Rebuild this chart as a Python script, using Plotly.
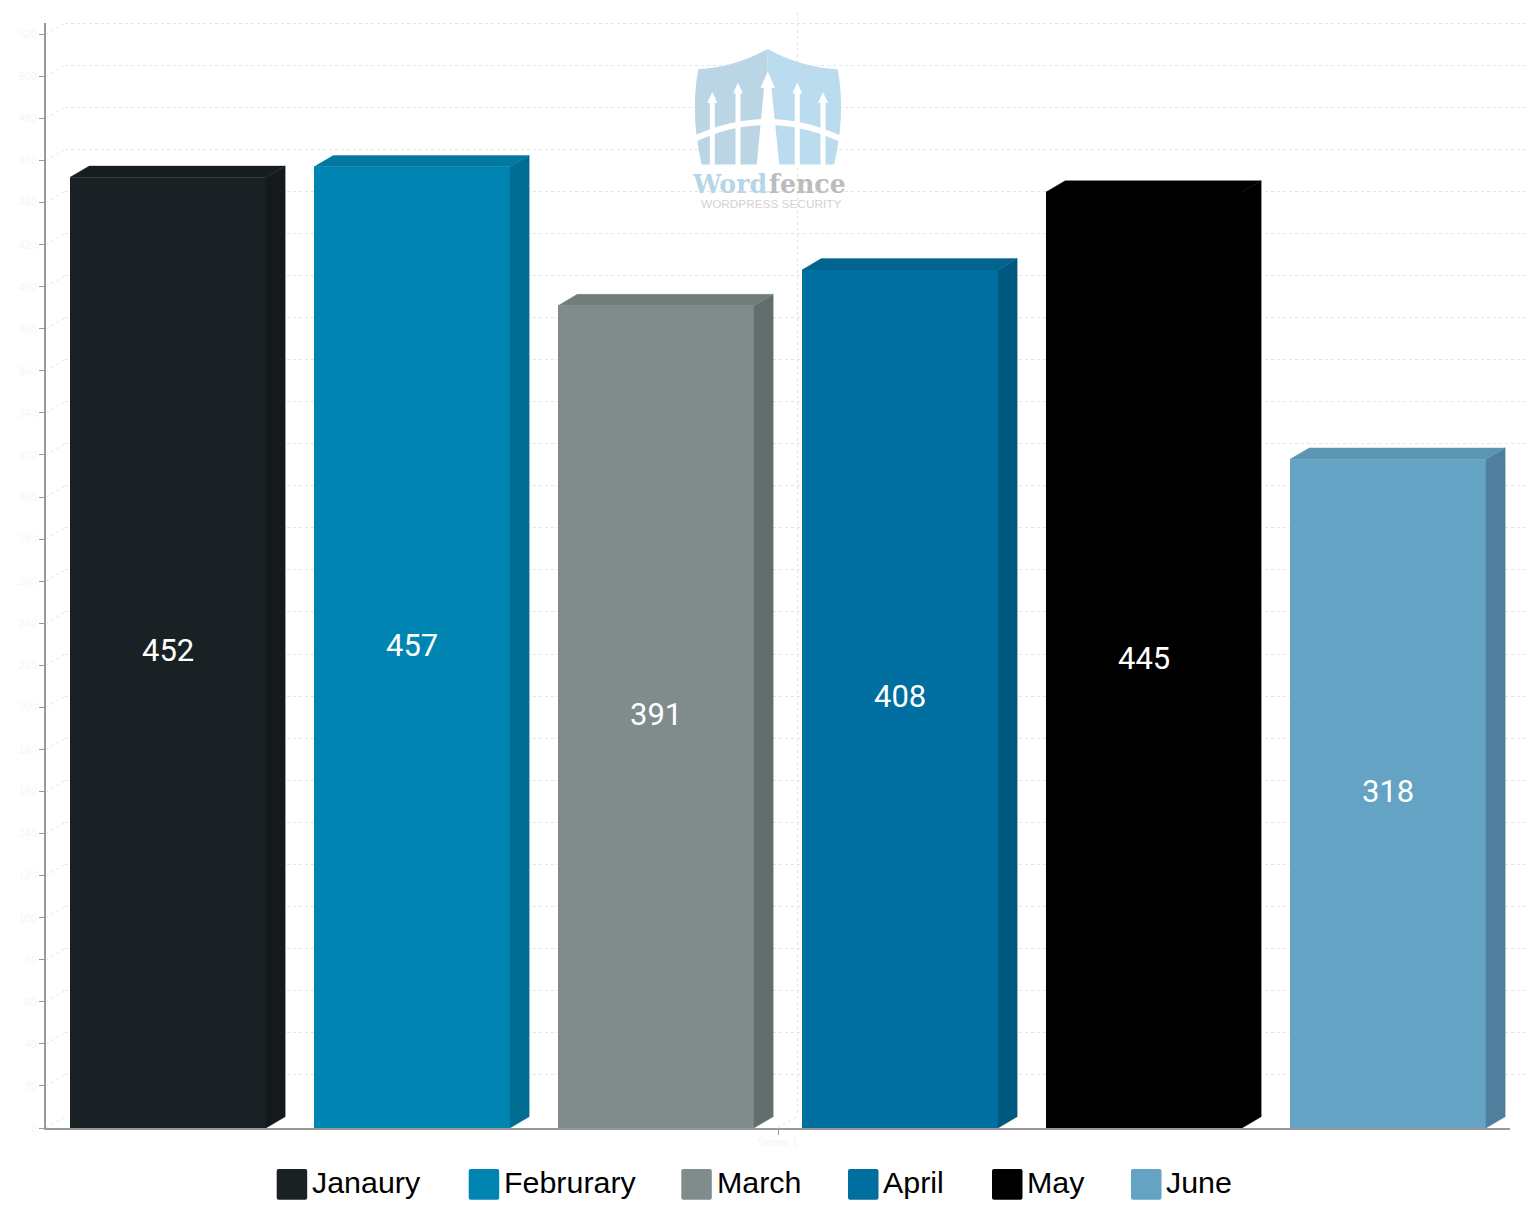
import plotly.graph_objects as go

# ---- data ----
months = ["Janaury", "Februrary", "March", "April", "May", "June"]
values = [452, 457, 391, 408, 445, 318]
y_ticks = list(range(0, 540, 20))
series_label = "Series 1"

# ---- styles ----
front_colors = ["#1a2124", "#0085b3", "#808c8b", "#006f9f", "#000000", "#64a3c4"]
side_colors = ["#14191b", "#006d93", "#626e6d", "#005a80", "#000000", "#4f7f9c"]
top_colors = ["#171d1f", "#0078a1", "#717c7b", "#00648f", "#000000", "#5c95b2"]
legend_swatch_left = [276.7, 468.7, 681.3, 848, 992, 1131]
legend_text_left = [311, 503, 715.5, 881.5, 1025.5, 1164.5]

# ---- page geometry (window pixels; the page body has an 8px margin) ----
FIG_W, FIG_H = 1520, 1213
OFF = 8
def px(x): return (x - OFF) / FIG_W
def py(y): return 1 - (y - OFF) / FIG_H

LEFT, RIGHT = 46.0, 1510.0
BOTTOM, TOP = 1128.0, 23.0
DEPTH_X, DEPTH_Y = 19.2, 11.3
Y_MAX = 525.4
UNIT_X = (RIGHT - LEFT) / 6
UNIT_Y = (BOTTOM - TOP) / Y_MAX
dx = DEPTH_X / UNIT_X
dy = DEPTH_Y / UNIT_Y
BAR_W = 196 / UNIT_X
GRID = "#e4e4e4"
AXIS = "#999999"
FAINT = "#f5f5f5"

fig = go.Figure()

# front faces
for i, (m, v) in enumerate(zip(months, values)):
    fig.add_trace(go.Bar(x=[i], y=[v], name=m, width=BAR_W, xaxis="x2", yaxis="y2",
                         marker=dict(color=front_colors[i], line=dict(width=0)),
                         showlegend=False))

# side and top faces derived from the values
for i, v in enumerate(values):
    l, r = i - BAR_W / 2, i + BAR_W / 2
    fig.add_trace(go.Scatter(x=[r, r + dx, r + dx, r, r], y=[0, dy, v + dy, v, 0], fill="toself", mode="lines",
                             xaxis="x2", yaxis="y2", fillcolor=side_colors[i],
                             line=dict(width=0.4, color=side_colors[i]),
                             cliponaxis=False, hoverinfo="skip", showlegend=False))
    fig.add_trace(go.Scatter(x=[l, l + dx, r + dx, r, l], y=[v, v + dy, v + dy, v, v], fill="toself", mode="lines",
                             xaxis="x2", yaxis="y2", fillcolor=top_colors[i],
                             line=dict(width=0.4, color=top_colors[i]),
                             cliponaxis=False, hoverinfo="skip", showlegend=False))

# diagonal side-wall and floor lines (they sit in the gaps, clear of every bar)
for v in y_ticks:
    fig.add_trace(go.Scatter(x=[-0.5, -0.5 + dx], y=[v, v + dy], mode="lines", xaxis="x2", yaxis="y2",
                             line=dict(color=GRID, width=1, dash="dot"), cliponaxis=False,
                             hoverinfo="skip", showlegend=False))
fig.add_trace(go.Scatter(x=[2.5, 2.5 + dx], y=[0, dy], mode="lines", xaxis="x2", yaxis="y2",
                         line=dict(color=GRID, width=1, dash="dot"), cliponaxis=False,
                         hoverinfo="skip", showlegend=False))
fig.add_trace(go.Scatter(x=[5.5, 5.5 + dx], y=[0, dy], mode="lines", xaxis="x2", yaxis="y2",
                         line=dict(color=GRID, width=1), cliponaxis=False,
                         hoverinfo="skip", showlegend=False))

shapes, annotations = [], []

# value labels
for i, v in enumerate(values):
    annotations.append(dict(text=str(v), xref="x2", yref="y2", x=i, y=v / 2, yshift=2,
                            xanchor="center", yanchor="middle", showarrow=False, borderpad=0,
                            font=dict(family="Roboto", size=31, color="white")))

# legend row
def rounded(x0, y0, x1, y1, r=2):
    return (f"M{px(x0 + r)},{py(y0)} L{px(x1 - r)},{py(y0)} Q{px(x1)},{py(y0)} {px(x1)},{py(y0 + r)} "
            f"L{px(x1)},{py(y1 - r)} Q{px(x1)},{py(y1)} {px(x1 - r)},{py(y1)} "
            f"L{px(x0 + r)},{py(y1)} Q{px(x0)},{py(y1)} {px(x0)},{py(y1 - r)} "
            f"L{px(x0)},{py(y0 + r)} Q{px(x0)},{py(y0)} {px(x0 + r)},{py(y0)} Z")

for i, m in enumerate(months):
    shapes.append(dict(type="path", xref="paper", yref="paper", layer="above",
                       path=rounded(legend_swatch_left[i], 1169, legend_swatch_left[i] + 30.5, 1199.7),
                       fillcolor=front_colors[i], line=dict(width=0)))
    annotations.append(dict(text=m, xref="paper", yref="paper", x=px(legend_text_left[i]), y=py(1182),
                            xanchor="left", yanchor="middle", showarrow=False, borderpad=0,
                            font=dict(family="Liberation Sans", size=30.4, color="#000000")))

# watermark logo
def poly(points):
    return "M" + " L".join(f"{px(a)},{py(b)}" for a, b in points) + " Z"

LEFT_BLUE, RIGHT_BLUE = "#bad5e3", "#bbdcee"
shapes.append(dict(type="path", xref="paper", yref="paper", fillcolor=LEFT_BLUE, line=dict(width=0),
    path=(f"M{px(767.7)},{py(49)} Q{px(735)},{py(67)} {px(698.3)},{py(69.3)} "
          f"Q{px(690)},{py(115)} {px(701.7)},{py(164.5)} L{px(767.7)},{py(164.5)} Z")))
shapes.append(dict(type="path", xref="paper", yref="paper", fillcolor=RIGHT_BLUE, line=dict(width=0),
    path=(f"M{px(767.7)},{py(49)} Q{px(800)},{py(67)} {px(837.7)},{py(69.3)} "
          f"Q{px(846)},{py(115)} {px(834)},{py(164.5)} L{px(767.7)},{py(164.5)} Z")))
# arch
shapes.append(dict(type="path", xref="paper", yref="paper", line=dict(color="white", width=6),
    path=f"M{px(692)},{py(140)} Q{px(767.7)},{py(104)} {px(843)},{py(140)}"))
# central post
shapes.append(dict(type="path", xref="paper", yref="paper", fillcolor="white", line=dict(width=0),
    path=poly([(767.7, 71.5), (775, 88), (771.5, 88), (779.3, 165), (756.7, 165), (764, 88), (760.5, 88)])))
# side posts
for cx, tip, base in [(712.3, 92, 103), (738, 82.5, 93.5), (797.3, 82.5, 93.5), (823, 92, 103)]:
    shapes.append(dict(type="path", xref="paper", yref="paper", fillcolor="white", line=dict(width=0),
        path=poly([(cx, tip), (cx + 5, base), (cx + 2.5, base), (cx + 2.5, 165),
                   (cx - 2.5, 165), (cx - 2.5, base), (cx - 5, base)])))

annotations += [
    dict(text="<b>Word</b>", xref="paper", yref="paper", x=px(769), y=py(184.5), xanchor="right", yanchor="middle",
         showarrow=False, borderpad=0, font=dict(family="DejaVu Serif", size=25.3, color="#b5d6e8")),
    dict(text="<b>fence</b>", xref="paper", yref="paper", x=px(768), y=py(184.5), xanchor="left", yanchor="middle",
         showarrow=False, borderpad=0, font=dict(family="DejaVu Serif", size=25.3, color="#bcbcbc")),
    dict(text="WORDPRESS SECURITY", xref="paper", yref="paper", x=px(771), y=py(203.5), xanchor="center", yanchor="middle",
         showarrow=False, borderpad=0, font=dict(family="Liberation Sans", size=11.8, color="#d2d2d2")),
]

x_range = [-0.5, 5.5]
fig.update_layout(
    width=FIG_W, height=FIG_H, margin=dict(l=0, r=0, t=0, b=0, pad=0, autoexpand=False),
    paper_bgcolor="white", plot_bgcolor="rgba(0,0,0,0)", showlegend=False, barmode="overlay",
    shapes=shapes, annotations=annotations,
    # back wall: carries only the dotted grid
    xaxis=dict(domain=[px(LEFT + DEPTH_X), px(1528)], range=[-0.5, -0.5 + (1528 - LEFT - DEPTH_X) / UNIT_X],
               tickmode="array", tickvals=[2.5], showticklabels=False, ticks="",
               showgrid=True, gridcolor=GRID, griddash="dot", gridwidth=1, zeroline=False, showline=False),
    yaxis=dict(domain=[py(BOTTOM - DEPTH_Y), py(TOP - DEPTH_Y)], range=[0, Y_MAX],
               tickmode="array", tickvals=y_ticks, showticklabels=False, ticks="",
               showgrid=True, gridcolor=GRID, griddash="dot", gridwidth=1, zeroline=False, showline=False,
               anchor="x"),
    # front plane: bars, axis lines, ticks and labels
    xaxis2=dict(domain=[px(LEFT), px(RIGHT)], range=x_range, anchor="y2",
                tickmode="array", tickvals=[2.5], ticktext=[series_label], ticks="outside", ticklen=5,
                tickcolor=AXIS, tickwidth=1, showline=True, linecolor=AXIS, linewidth=1.5, showgrid=False,
                zeroline=False, ticklabelstandoff=-2,
                tickfont=dict(family="Liberation Sans", size=11, color=FAINT)),
    yaxis2=dict(domain=[py(BOTTOM), py(TOP)], range=[0, Y_MAX], anchor="x2",
                tickmode="array", tickvals=y_ticks, ticks="outside", ticklen=5,
                tickcolor=AXIS, tickwidth=1, showline=True, linecolor=AXIS, linewidth=1.5, showgrid=False,
                zeroline=False, tickfont=dict(family="Liberation Sans", size=11, color=FAINT)),
)

# the back-wall axes need at least one trace to be drawn
fig.add_trace(go.Scatter(x=[], y=[], xaxis="x", yaxis="y", mode="lines", hoverinfo="skip", showlegend=False))

fig.write_html("out.html")
